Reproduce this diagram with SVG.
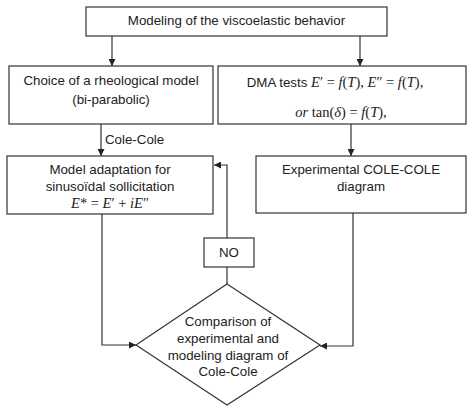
<svg xmlns="http://www.w3.org/2000/svg" width="474" height="412" viewBox="0 0 474 412">
<defs>
<marker id="ah" viewBox="0 0 10 10" refX="10" refY="5" markerWidth="7" markerHeight="7" orient="auto" markerUnits="userSpaceOnUse">
<path d="M0,0 L10,5 L0,10 z" fill="#222"/>
</marker>
<style>
.box{fill:#fff;stroke:#333;stroke-width:1.2}
.t{font-family:"Liberation Sans",Arial,sans-serif;font-size:13.3px;fill:#222;text-anchor:middle}
.m{font-family:"Liberation Serif","Times New Roman",serif;font-size:14.5px;fill:#222}
.i{font-style:italic}
.c{fill:none;stroke:#333;stroke-width:1.2}
</style>
</defs>
<rect width="474" height="412" fill="#fff"/>
<g id="connectors">
<path class="c" d="M112,36 V66" marker-end="url(#ah)"/>
<path class="c" d="M360,36 V66" marker-end="url(#ah)"/>
<path class="c" d="M101,124 V156" marker-end="url(#ah)"/>
<path class="c" d="M351,124 V156" marker-end="url(#ah)"/>
<path class="c" d="M227,238 V165 H214" marker-end="url(#ah)"/>
<path class="c" d="M227,267 V284"/>
<path class="c" d="M102,214 V345 H136" marker-end="url(#ah)"/>
<path class="c" d="M353,213 V346 H320" marker-end="url(#ah)"/>
<text class="t" x="105" y="144" style="text-anchor:start">Cole-Cole</text>
</g>
<g id="top">
<rect class="box" x="86" y="7" width="301" height="29"/>
<text class="t" x="236.5" y="25">Modeling of the viscoelastic behavior</text>
</g>
<g id="choice">
<rect class="box" x="9" y="66" width="204" height="58"/>
<text class="t" x="111" y="85">Choice of a rheological model</text>
<text class="t" x="111" y="104">(bi-parabolic)</text>
</g>
<g id="dma">
<rect class="box" x="218" y="66" width="248" height="58"/>
<text x="335" y="87" class="m" style="text-anchor:middle"><tspan font-family="Liberation Sans, Arial, sans-serif" font-size="13.3">DMA tests </tspan><tspan class="i">E</tspan>′ = <tspan class="i">f</tspan>(<tspan class="i">T</tspan>), <tspan class="i">E</tspan>″ = <tspan class="i">f</tspan>(<tspan class="i">T</tspan>),</text>
<text x="341" y="117" class="m" style="text-anchor:middle"><tspan class="i">or</tspan> tan(<tspan class="i">δ</tspan>) = <tspan class="i">f</tspan>(<tspan class="i">T</tspan>),</text>
</g>
<g id="model">
<rect class="box" x="7" y="156" width="206" height="58"/>
<text class="t" x="110" y="174">Model adaptation for</text>
<text class="t" x="110" y="191">sinusoïdal sollicitation</text>
<text x="110" y="208" class="m" style="text-anchor:middle"><tspan class="i">E</tspan>* = <tspan class="i">E</tspan>′ + <tspan class="i">iE</tspan>″</text>
</g>
<g id="experimental">
<rect class="box" x="256" y="156" width="210" height="57"/>
<text class="t" x="361" y="174">Experimental COLE-COLE</text>
<text class="t" x="361" y="191">diagram</text>
</g>
<g id="no">
<rect class="box" x="204" y="238" width="50" height="29"/>
<text class="t" x="229" y="257">NO</text>
</g>
<g id="comparison">
<path class="box" d="M227,284 L320,345 L227,405 L136,345 Z"/>
<text class="t" x="228" y="326">Comparison of</text>
<text class="t" x="228" y="343">experimental and</text>
<text class="t" x="228" y="360">modeling diagram of</text>
<text class="t" x="228" y="376">Cole-Cole</text>
</g>
</svg>
